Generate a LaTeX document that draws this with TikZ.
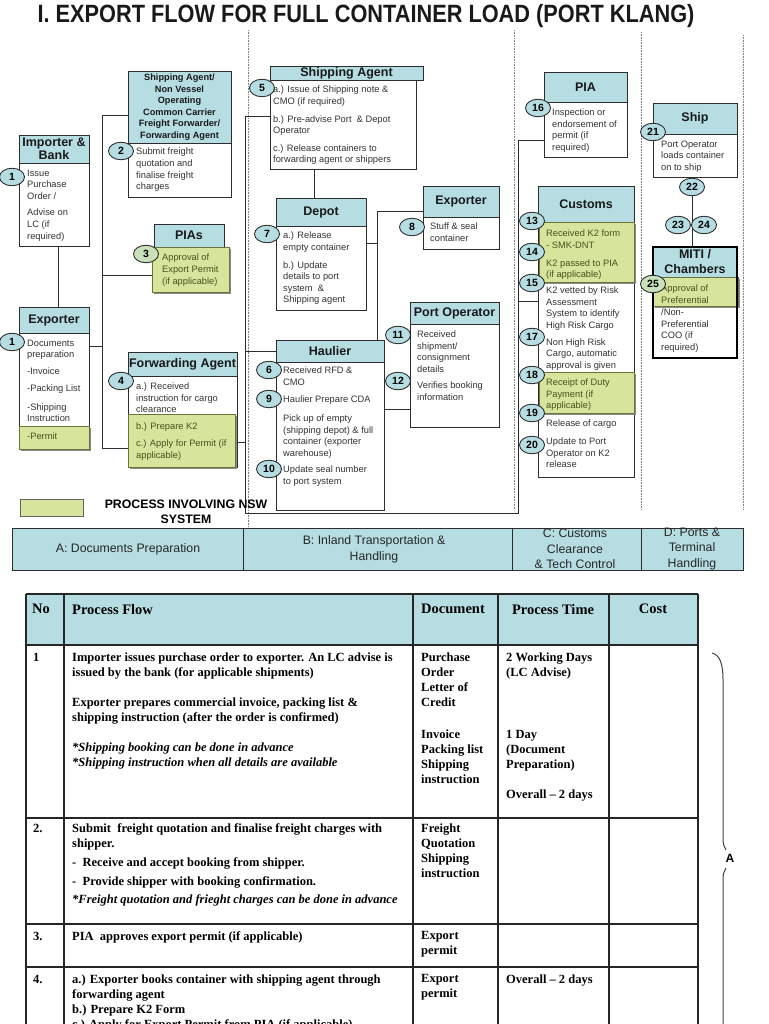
\documentclass[tikz,border=0pt]{standalone}
\usepackage{fontspec}
\setmainfont{Liberation Sans}
\newfontfamily\tmsfont{Liberation Serif}
\usetikzlibrary{shapes.geometric}
\definecolor{hdr}{RGB}{182,222,226}
\definecolor{nsw}{RGB}{214,228,156}
\definecolor{nswdk}{RGB}{105,115,60}
\definecolor{gtext}{RGB}{70,82,30}
\definecolor{ln}{RGB}{45,45,45}
\tikzset{
  box/.style={draw=ln, line width=0.8pt, fill=white, inner sep=0pt, outer sep=0pt, anchor=north west},
  hd/.style={draw=ln, line width=0.8pt, fill=hdr, inner sep=0pt, outer sep=0pt, anchor=north west, align=center, font=\bfseries\fontsize{12.5}{13}\selectfont, text=black!90},
  tx/.style={anchor=north west, inner sep=0pt, align=left, font=\fontsize{9.3}{11.6}\selectfont, text=black!80},
  gtx/.style={tx, text=gtext},
  num/.style={ellipse, draw=ln, line width=0.9pt, fill=hdr, inner sep=0pt, minimum width=25pt, minimum height=17.5pt, font=\bfseries\fontsize{10.5}{10.5}\selectfont},
  grn/.style={fill=nsw, draw=nswdk, line width=0.8pt},
  shd/.style={fill=black!45},
  conn/.style={draw=ln, line width=1pt},
  sep/.style={draw=black!50, densely dotted, line width=0.6pt},
  tbl/.style={draw=black!85, line width=1.2pt},
  tt/.style={anchor=north west, inner sep=0pt, align=left, font=\tmsfont\bfseries\fontsize{12.5}{15}\selectfont},
  th/.style={anchor=north west, inner sep=0pt, font=\tmsfont\bfseries\fontsize{14.5}{15}\selectfont},
  bandtx/.style={align=center, inner sep=0pt, font=\fontsize{12.3}{15.5}\selectfont, text=black!85},
}
\newcommand{\mkbox}[8][]{%
  \node[box, minimum width={#5-#3}, minimum height={#6-#4}] (#2) at (#3,#4) {};
  \node[hd, #1, minimum width={#5-#3}, minimum height={#7-#4}] (#2-h) at (#3,#4) {#8};}
\begin{document}
\begin{tikzpicture}[x=1pt,y=-1pt]
\useasboundingbox (0,0) rectangle (768,1024);
\clip (0,0) rectangle (768,1024);
% title
\node[font=\bfseries\fontsize{25}{25}\selectfont, text=black!90, inner sep=0pt] (title) at (366,16) {\scalebox{0.87}[1]{I. EXPORT FLOW FOR FULL CONTAINER LOAD (PORT KLANG)}};
% dotted separators
\draw[sep] (248,30) -- (248,528);
\draw[sep] (514,30) -- (514,510);
\draw[sep] (641,32) -- (641,510);
\draw[sep] (743,35) -- (743,510);

% ---------- boxes ----------
\mkbox{imp}{19}{135}{89}{246}{163}{Importer \&\\Bank}
\mkbox[font=\bfseries\fontsize{9.2}{11.5}\selectfont]{nvo}{128}{71}{231}{197}{143}{Shipping Agent/\\Non Vessel\\Operating\\Common Carrier\\Freight Forwarder/\\Forwarding Agent}
% PIAs
\node[inner sep=0pt, outer sep=0pt, minimum width=77, minimum height=68, anchor=north west] (pias) at (152,224) {};
\node[hd, minimum width=70, minimum height=23] (pias-h) at (154,224) {PIAs};
\fill[shd] (154,249) rectangle (231,294);
\filldraw[grn] (152,247) rectangle (229,292);
% Exporter left
\mkbox{exl}{19}{307}{89}{449}{333}{Exporter}
\fill[shd] (21,428) rectangle (91,451);
\filldraw[grn] (19,426) rectangle (89,449);
% Forwarding agent
\mkbox{fa}{128}{352}{237}{467}{376}{Forwarding Agent}
\fill[shd] (130,416) rectangle (237,469);
\filldraw[grn] (128,414) rectangle (235,467);
% Shipping agent (middle)
\node[box, minimum width=146, minimum height=89] (sa) at (270,80) {};
\node[hd, minimum width=153, minimum height=14] (sa-h) at (270,66) {Shipping Agent};
\mkbox{dep}{276}{198}{366}{310}{226}{Depot}
\mkbox{exm}{423}{186}{499}{249}{217}{Exporter}
\mkbox{hau}{276}{340}{384}{510}{362}{Haulier}
\mkbox{po}{410}{302}{499}{427}{324}{Port Operator}
\mkbox{pia}{544}{72}{627}{157}{102}{PIA}
\mkbox{cus}{538}{186}{634}{477}{222}{Customs}
\fill[shd] (541,224) rectangle (636,284);
\filldraw[grn] (539,222) rectangle (634,282);
\fill[shd] (541,374) rectangle (636,415);
\filldraw[grn] (539,372) rectangle (634,413);
\mkbox{ship}{653}{103}{737}{177}{134}{Ship}
\mkbox[font=\bfseries\fontsize{12.5}{15}\selectfont]{miti}{653}{247}{737}{358}{277}{MITI /\\Chambers}
\fill[shd] (655,279) rectangle (740,308);
\filldraw[grn] (653,277) rectangle (738,306);
\draw[line width=2.4pt, black] (miti.north west) rectangle (miti.south east);

% ---------- connectors ----------
\coordinate (ie) at (58,0);
\draw[conn] (imp.south -| ie) -- (exl.north -| ie);
\coordinate (tL1) at (102,116);
\coordinate (tL2) at (102,448);
\coordinate (tL3) at (102,346);
\coordinate (tL4) at (102,275);
\draw[conn] (nvo.west |- tL1) -- (tL1) -- (tL2) -- (fa.west |- tL2);
\draw[conn] (exl.east |- tL3) -- (tL3);
\draw[conn] (tL4) -- (pias.west |- tL4);
\coordinate (m1) at (245,117);
\coordinate (m2) at (245,513);
\coordinate (m3) at (245,442);
\coordinate (m4) at (245,351);
\coordinate (r1) at (518,141);
\coordinate (r2) at (518,513);
\coordinate (r3) at (518,301);
\draw[conn] (sa.west |- m1) -- (m1) -- (m2) -- (r2) -- (r1) -- (pia.west |- r1);
\draw[conn] (fa.east |- m3) -- (m3);
\draw[conn] (m4) -- (hau.west |- m4);
\draw[conn] (r3) -- (cus.west |- r3);
\coordinate (q) at (314,0);
\draw[conn] (sa.south -| q) -- (dep.north -| q);
\coordinate (d1) at (377,243);
\coordinate (d2) at (377,212);
\draw[conn] (dep.east |- d1) -- (d1);
\draw[conn] (exm.west |- d2) -- (d2) -- (hau.north -| d2);
\coordinate (p1) at (0,409);
\draw[conn] (hau.east |- p1) -- (po.west |- p1);

% ---------- texts ----------
\node[tx] (imp-t) at (27,169.5) {Issue\\Purchase\\Order /\\[5pt]Advise on\\LC (if\\required)};
\node[tx] (nvo-t) at (136,148) {Submit freight\\quotation and\\finalise freight\\charges};
\node[gtx] (pias-t) at (162,254) {Approval of\\Export Permit\\(if applicable)};
\node[tx] (exl-t) at (27,339.5) {Documents\\preparation\\[5.5pt]-Invoice\\[5.5pt]-Packing List\\[6.5pt]-Shipping\\Instruction};
\node[gtx] (exl-g) at (27,432.5) {-Permit};
\node[tx] (fa-t) at (136,382.5) {a.) Received\\instruction for cargo\\clearance};
\node[gtx] (fa-g) at (136,422.5) {b.) Prepare K2\\[5.5pt]c.) Apply for Permit (if\\applicable)};
\node[tx] (sa-t) at (273,85.5) {a.) Issue of Shipping note \&\\CMO (if required)\\[6.5pt]b.) Pre-advise Port~ \& Depot\\Operator\\[6pt]c.) Release containers to\\forwarding agent or shippers};
\node[tx] (dep-t) at (283,231.5) {a.) Release\\empty container\\[6.5pt]b.) Update\\details to port\\system~ \&\\Shipping agent};
\node[tx] (exm-t) at (430,223) {Stuff \& seal\\container};
\node[tx] (hau-t1) at (283,366.5) {Received RFD \&\\CMO};
\node[tx] (hau-t2) at (283,395.5) {Haulier Prepare CDA};
\node[tx] (hau-t3) at (283,414.5) {Pick up of empty\\(shipping depot) \& full\\container (exporter\\warehouse)};
\node[tx] (hau-t4) at (283,465.5) {Update seal number\\to port system};
\node[tx] (po-t1) at (417,330.5) {Received\\shipment/\\consignment\\details};
\node[tx] (po-t2) at (417,381.5) {Verifies booking\\information};
\node[tx] (pia-t) at (552,108.5) {Inspection or\\endorsement of\\permit (if\\required)};
\node[gtx] (cus-g1) at (546,229.5) {Received K2 form\\- SMK-DNT\\[6.5pt]K2 passed to PIA\\(if applicable)};
\node[tx] (cus-t1) at (546,286.5) {K2 vetted by Risk\\Assessment\\System to identify\\High Risk Cargo\\[5.5pt]Non High Risk\\Cargo, automatic\\approval is given};
\node[gtx] (cus-g2) at (546,378.5) {Receipt of Duty\\Payment (if\\applicable)};
\node[tx] (cus-t2) at (546,419.5) {Release of cargo};
\node[tx] (cus-t3) at (546,437.5) {Update to Port\\Operator on K2\\release};
\node[tx] (ship-t) at (661,140.5) {Port Operator\\loads container\\on to ship};
\node[gtx] (miti-g) at (661,284.5) {Approval of\\Preferential};
\node[tx] (miti-t) at (661,308.5) {/Non-\\Preferential\\COO (if\\required)};

% ---------- numbered circles ----------
\node[num] (n1a) at (12,177) {1};
\node[num] (n2) at (121,151) {2};
\node[num, fill=hdr!45!nsw] (n3) at (146,254) {3};
\node[num] (n1b) at (12,342) {1};
\node[num] (n4) at (121,381) {4};
\node[num] (n5) at (262,88) {5};
\node[num] (n7) at (267,234) {7};
\node[num] (n8) at (412,227) {8};
\node[num] (n6) at (269,370) {6};
\node[num] (n9) at (269,399) {9};
\node[num] (n10) at (269,469) {10};
\node[num] (n11) at (398,335) {11};
\node[num] (n12) at (398,381) {12};
\node[num] (n16) at (538,108) {16};
\node[num] (n13) at (532,221) {13};
\node[num] (n14) at (532,252) {14};
\node[num] (n15) at (532,283) {15};
\node[num] (n17) at (532,337) {17};
\node[num] (n18) at (532,375) {18};
\node[num] (n19) at (532,413) {19};
\node[num] (n20) at (532,445) {20};
\node[num] (n21) at (653,132) {21};
\node[num] (n22) at (692,187) {22};
\draw[conn] (n22.south) -- (miti.north -| n22);
\node[num] (n23) at (678,225) {23};
\node[num] (n24) at (704,225) {24};
\node[num, fill=hdr!45!nsw] (n25) at (653,284) {25};

% ---------- legend ----------
\node[draw=black!60, fill=nsw, line width=0.8pt, minimum width=63, minimum height=17, anchor=north west, inner sep=0pt] (leg) at (20,499) {};
\node[font=\bfseries\fontsize{12.3}{15}\selectfont, align=center, inner sep=0pt] (legt) at (186,511.5) {PROCESS INVOLVING NSW\\SYSTEM};

% ---------- band ----------
\node[draw=ln, fill=hdr, line width=1pt, minimum width=731, minimum height=42, anchor=north west, inner sep=0pt] (bandbox) at (12,528) {};
\draw[ln, line width=1pt] (243,528) -- (243,570);
\draw[ln, line width=1pt] (512,528) -- (512,570);
\draw[ln, line width=1pt] (641,528) -- (641,570);
\node[bandtx] (bA) at (128,549) {A: Documents Preparation};
\node[bandtx] (bB) at (374,549.5) {B: Inland Transportation \&\\Handling};
\node[bandtx] (bC) at (575,549) {C: Customs\\Clearance\\\& Tech Control};
\node[bandtx] (bD) at (692,549) {D: Ports \&\\Terminal\\Handling};

% ---------- table ----------
\fill[hdr] (26,594) rectangle (698,645);
\foreach \yy in {594,645,818,924,967} \draw[tbl] (26,\yy) -- (698,\yy);
\foreach \xx in {26,64,413,498,609,698} \draw[tbl] (\xx,594) -- (\xx,1030);
\node[th] (hNo) at (32,604) {No};
\node[th] (hPF) at (72,604) {Process Flow};
\node[th] (hDoc) at (421,604) {Document};
\node[th, anchor=north] (hPT) at (553,604) {Process Time};
\node[th, anchor=north] (hCost) at (653,604) {Cost};
% row 1
\node[tt] (r1n) at (33,652.6) {1};
\node[tt] (r1p) at (72,652.6) {Importer issues purchase order to exporter. An LC advise is\\issued by the bank (for applicable shipments)\\[15pt]Exporter prepares commercial invoice, packing list \&\\shipping instruction (after the order is confirmed)\\[15pt]{\itshape *Shipping booking can be done in advance}\\{\itshape *Shipping instruction when all details are available}};
\node[tt] (r1d) at (421,652.6) {Purchase\\Order\\Letter of\\Credit\\[17pt]Invoice\\Packing list\\Shipping\\instruction};
\node[tt] (r1t) at (506,652.6) {2 Working Days\\(LC Advise)\\[47pt]1 Day\\(Document\\Preparation)\\[15pt]Overall – 2 days};
% row 2
\node[tt] (r2n) at (33,823.6) {2.};
\node[tt] (r2p) at (72,823.6) {Submit~ freight quotation and finalise freight charges with\\shipper.\\[4pt]-~ Receive and accept booking from shipper.\\[4pt]-~ Provide shipper with booking confirmation.\\[3pt]{\itshape *Freight quotation and frieght charges can be done in advance}};
\node[tt] (r2d) at (421,823.6) {Freight\\Quotation\\Shipping\\instruction};
% row 3
\node[tt] (r3n) at (33,931.6) {3.};
\node[tt] (r3p) at (72,931.6) {PIA~ approves export permit (if applicable)};
\node[tt] (r3d) at (421,931.6) {Export\\permit};
% row 4
\node[tt] (r4n) at (33,974.6) {4.};
\node[tt] (r4p) at (72,974.6) {a.) Exporter books container with shipping agent through\\forwarding agent\\b.) Prepare K2 Form\\c.) Apply for Export Permit from PIA (if applicable)};
\node[tt] (r4d) at (421,974.6) {Export\\permit};
\node[tt] (r4t) at (506,974.6) {Overall – 2 days};
% brace A
\draw[line width=1pt, black!75] (712,653) .. controls (720,655) and (723,664) .. (723,680) -- (723,838) .. controls (723,844) and (724,847) .. (726,850);
\draw[line width=1pt, black!75] (726,868) .. controls (724,871) and (723,874) .. (723,880) -- (723,1030);
\node[font=\bfseries\fontsize{12}{12}\selectfont, inner sep=0pt] (lblA) at (730,858) {A};
\end{tikzpicture}
\end{document}
